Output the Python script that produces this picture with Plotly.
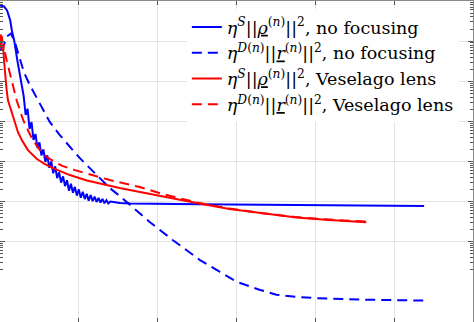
import plotly.graph_objects as go

# iteration axis (0..600) and values
bs_x = [0, 5, 9, 13, 15, 18, 22, 26, 28.5,
        30, 32.5, 35, 37.5, 40, 42.5, 45, 47.5, 50, 52.5, 55, 57.5, 60, 62.5, 65, 67.5,
        70, 72.5, 75, 77.5, 80, 82.5, 85, 87.5, 90, 92.5, 95, 97.5, 100, 102.5, 105,
        107.5, 110, 112.5, 115, 117.5, 120, 122.5, 125, 127.5, 130, 132.5, 135, 137.5, 140,
        152, 165, 253, 380, 538]
bs_y = [0.77, 0.73, 0.58, 0.326, 0.184, 0.104, 0.033, 0.0105, 5.30e-3,
        4.30e-3, 1.45e-3, 2.05e-3, 6.50e-4, 9.60e-4, 3.45e-4, 4.85e-4, 2.18e-4, 3.00e-4,
        1.42e-4, 2.00e-4, 9.80e-5, 1.42e-4, 7.00e-5, 1.00e-4, 5.10e-5, 7.55e-5, 3.85e-5,
        5.35e-5, 2.97e-5, 4.25e-5, 2.43e-5, 3.40e-5, 1.87e-5, 2.78e-5, 1.67e-5, 2.33e-5,
        1.41e-5, 2.02e-5, 1.25e-5, 1.76e-5, 1.16e-5, 1.56e-5, 1.06e-5, 1.45e-5, 1.03e-5,
        1.33e-5, 9.8e-6, 1.24e-5, 9.5e-6, 1.17e-5, 9.1e-6, 1.09e-5, 9.0e-6, 1.0e-5,
        9.26e-6, 9.0e-6, 8.59e-6, 8.26e-6, 7.80e-6]

bd_x = [0, 5.1, 8.9, 13.9, 19.0, 25.3, 30.4, 38.0, 46.8, 54.4, 63.3, 75.9, 88.6, 101.3,
        113.9, 126.6, 139.2, 151.9, 164.6, 189.9, 219.0, 253.2, 278.5, 300.0, 329.1,
        350.6, 379.7, 401.3, 464.6, 540.5]
bd_y = [5.86e-2, 8.26e-2, 0.131, 0.155, 9.25e-2, 3.71e-2, 1.66e-2, 7.91e-3, 3.76e-3,
        1.89e-3, 9.53e-4, 4.53e-4, 2.28e-4, 1.21e-4, 6.85e-5, 3.87e-5, 2.18e-5, 1.38e-5,
        8.26e-6, 3.12e-6, 1.11e-6, 3.55e-7, 1.79e-7, 1.01e-7, 6.38e-8, 4.80e-8, 4.16e-8,
        3.93e-8, 3.60e-8, 3.40e-8]

rs_x = [0, 1.3, 2.5, 3.8, 5.1, 6.3, 8.2, 10.1, 13.9, 17.7, 22.8, 27.8, 35.4, 46.8, 57.0,
        67.1, 75.9, 88.6, 110.1, 130.4, 151.9, 164.6, 206.3, 249.4, 291.1, 332.9, 375.9,
        417.7, 464.6]
rs_y = [9.25e-2, 0.146, 5.86e-2, 8.26e-2, 3.30e-2, 1.40e-2, 6.67e-3, 3.36e-3, 1.89e-3,
        1.07e-3, 5.37e-4, 3.40e-4, 1.92e-4, 1.15e-4, 8.61e-5, 6.85e-5, 5.78e-5, 4.59e-5,
        3.35e-5, 2.67e-5, 2.18e-5, 1.95e-5, 1.34e-5, 9.26e-6, 6.56e-6, 5.08e-6, 4.04e-6,
        3.50e-6, 3.07e-6]

rd_x = [0, 1.3, 2.5, 3.8, 5.1, 6.3, 8.5, 11.4, 14.8, 17.7, 21.1, 25.3, 29.5, 35.4, 41.8,
        50.6, 59.5, 69.6, 79.7, 94.9, 110.1, 126.6, 139.2, 158.2, 177.2, 206.3, 249.4,
        291.1, 332.9, 375.9, 417.7, 465.8]
rd_y = [0.104, 6.56e-2, 0.131, 5.86e-2, 8.26e-2, 5.22e-2, 3.30e-2, 1.87e-2, 1.05e-2,
        5.94e-3, 3.36e-3, 1.89e-3, 1.07e-3, 6.03e-4, 3.40e-4, 1.92e-4, 1.29e-4, 9.66e-5,
        7.69e-5, 6.11e-5, 5.00e-5, 4.09e-5, 3.45e-5, 2.83e-5, 2.31e-5, 1.55e-5, 9.53e-6,
        6.76e-6, 5.14e-6, 4.11e-6, 3.56e-6, 3.16e-6]

labels = [
    "<i>η</i><sup><i>S</i></sup>||<u><i>ρ</i></u><sup>(<i>n</i>)</sup>||<sup>2</sup>, no focusing",
    "<i>η</i><sup><i>D</i>(<i>n</i>)</sup>||<u><i>r</i></u><sup>(<i>n</i>)</sup>||<sup>2</sup>, no focusing",
    "<i>η</i><sup><i>S</i></sup>||<u><i>ρ</i></u><sup>(<i>n</i>)</sup>||<sup>2</sup>, Veselago lens",
    "<i>η</i><sup><i>D</i>(<i>n</i>)</sup>||<u><i>r</i></u><sup>(<i>n</i>)</sup>||<sup>2</sup>, Veselago lens",
]

x_ticks = [0, 100, 200, 300, 400, 500, 600]
y_ticks = [1e-6, 1e-5, 1e-4, 1e-3, 1e-2, 1e-1, 1]
y_minor = [k * 10.0 ** e for e in range(-7, 0) for k in range(2, 10)]

BLUE = "#0000ff"
RED = "#ff0000"
DASH = "10px,6px"

fig = go.Figure()
fig.add_trace(go.Scatter(x=bs_x, y=bs_y, mode="lines", name=labels[0],
                         line=dict(color=BLUE, width=2)))
fig.add_trace(go.Scatter(x=bd_x, y=bd_y, mode="lines", name=labels[1],
                         line=dict(color=BLUE, width=2, dash=DASH)))
fig.add_trace(go.Scatter(x=rs_x, y=rs_y, mode="lines", name=labels[2],
                         line=dict(color=RED, width=2)))
fig.add_trace(go.Scatter(x=rd_x, y=rd_y, mode="lines", name=labels[3],
                         line=dict(color=RED, width=2, dash=DASH)))

axis_common = dict(showline=True, linecolor="#8a8a8a", linewidth=1, mirror="allticks",
                   ticks="inside", tickcolor="#555555", showticklabels=False,
                   showgrid=True, gridcolor="#e3e3e3", gridwidth=1, zeroline=False)

fig.update_xaxes(range=[0, 600], tickmode="array", tickvals=x_ticks, ticklen=4,
                 **axis_common)
fig.update_yaxes(type="log", range=[-8, 0], tickmode="array", tickvals=y_ticks,
                 ticklen=5,
                 minor=dict(tickmode="array", tickvals=y_minor, ticks="inside",
                            ticklen=3, tickcolor="#555555", showgrid=False),
                 **axis_common)

fig.update_layout(
    width=474, height=322,
    margin=dict(l=0, r=1, t=1, b=0),
    plot_bgcolor="white", paper_bgcolor="white",
    showlegend=True,
    legend=dict(x=0.395, y=0.975, xanchor="left", yanchor="top",
                bgcolor="white", borderwidth=0, tracegroupgap=0,
                font=dict(family="DejaVu Serif", size=17.5, color="#000000")),
)

fig.write_html("out.html")
